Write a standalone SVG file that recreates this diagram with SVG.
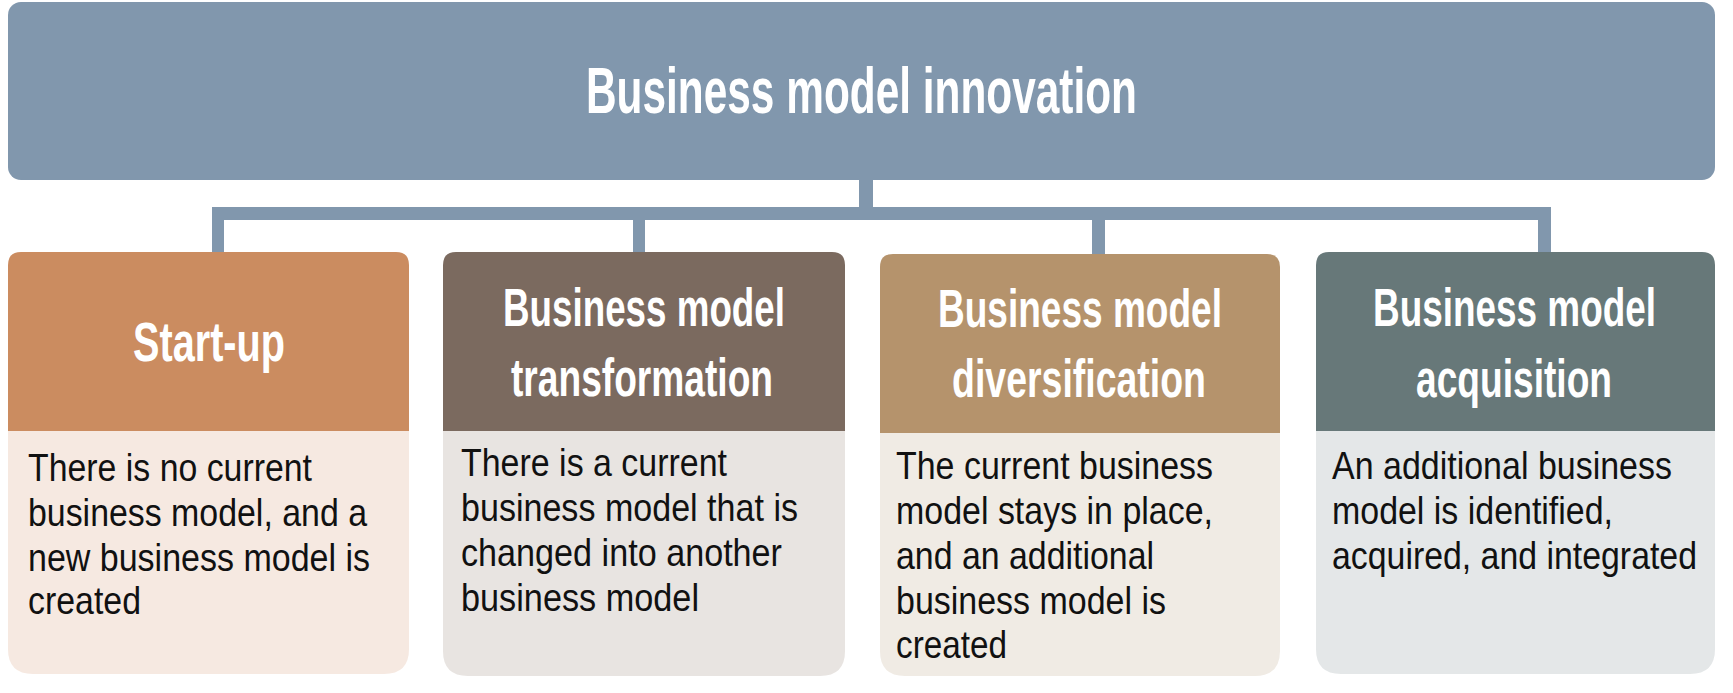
<svg xmlns="http://www.w3.org/2000/svg" width="1733" height="693" viewBox="0 0 1733 693">
<style>
.hdr{font-family:"Liberation Sans Narrow","Liberation Sans","DejaVu Sans Condensed",sans-serif;font-weight:bold;fill:#ffffff;}
.body{font-family:"Liberation Sans Narrow","Liberation Sans",Arial,sans-serif;font-size:39px;fill:#111111;}
.conn{fill:#8197ad;}
</style>
<rect width="1733" height="693" fill="#ffffff"/>
<g id="connectors">
  <rect class="conn" x="859" y="178" width="14" height="36"/>
  <rect class="conn" x="212" y="207" width="1339" height="13"/>
  <rect class="conn" x="212" y="207" width="12" height="47"/>
  <rect class="conn" x="633" y="207" width="12" height="47"/>
  <rect class="conn" x="1092" y="207" width="13" height="49"/>
  <rect class="conn" x="1538" y="207" width="13" height="47"/>
</g>
<g id="root">
  <rect x="8" y="2" width="1707" height="178" rx="13" fill="#8197ad"/>
  <text class="hdr" x="586" y="113" font-size="64" textLength="551" lengthAdjust="spacingAndGlyphs">Business model innovation</text>
</g>
<g id="startup">
  <path d="M8 265 Q8 252 21 252 H396 Q409 252 409 265 V431 H8 Z" fill="#cb8c60"/>
  <path d="M8 431 H409 V649 Q409 674 384 674 H33 Q8 674 8 649 Z" fill="#f6e9e1"/>
  <text class="hdr" x="133" y="361" font-size="55" textLength="152" lengthAdjust="spacingAndGlyphs">Start-up</text>
  <text class="body" x="28" y="481" textLength="284" lengthAdjust="spacingAndGlyphs">There is no current</text>
  <text class="body" x="28" y="526" textLength="339" lengthAdjust="spacingAndGlyphs">business model, and a</text>
  <text class="body" x="28" y="571" textLength="342" lengthAdjust="spacingAndGlyphs">new business model is</text>
  <text class="body" x="28" y="614" textLength="113" lengthAdjust="spacingAndGlyphs">created</text>
</g>
<g id="transformation">
  <path d="M443 265 Q443 252 456 252 H832 Q845 252 845 265 V431 H443 Z" fill="#7b6a5f"/>
  <path d="M443 431 H845 V651 Q845 676 820 676 H468 Q443 676 443 651 Z" fill="#e8e4e1"/>
  <text class="hdr" x="503" y="326" font-size="54" textLength="282" lengthAdjust="spacingAndGlyphs">Business model</text>
  <text class="hdr" x="511" y="396" font-size="54" textLength="262" lengthAdjust="spacingAndGlyphs">transformation</text>
  <text class="body" x="461" y="476" textLength="266" lengthAdjust="spacingAndGlyphs">There is a current</text>
  <text class="body" x="461" y="521" textLength="337" lengthAdjust="spacingAndGlyphs">business model that is</text>
  <text class="body" x="461" y="566" textLength="321" lengthAdjust="spacingAndGlyphs">changed into another</text>
  <text class="body" x="461" y="611" textLength="238" lengthAdjust="spacingAndGlyphs">business model</text>
</g>
<g id="diversification">
  <path d="M880 267 Q880 254 893 254 H1267 Q1280 254 1280 267 V433 H880 Z" fill="#b5936c"/>
  <path d="M880 433 H1280 V651 Q1280 676 1255 676 H905 Q880 676 880 651 Z" fill="#f0ebe4"/>
  <text class="hdr" x="938" y="327" font-size="54" textLength="284" lengthAdjust="spacingAndGlyphs">Business model</text>
  <text class="hdr" x="952" y="397" font-size="54" textLength="254" lengthAdjust="spacingAndGlyphs">diversification</text>
  <text class="body" x="896" y="479" textLength="317" lengthAdjust="spacingAndGlyphs">The current business</text>
  <text class="body" x="896" y="524" textLength="317" lengthAdjust="spacingAndGlyphs">model stays in place,</text>
  <text class="body" x="896" y="569" textLength="258" lengthAdjust="spacingAndGlyphs">and an additional</text>
  <text class="body" x="896" y="614" textLength="270" lengthAdjust="spacingAndGlyphs">business model is</text>
  <text class="body" x="896" y="658" textLength="111" lengthAdjust="spacingAndGlyphs">created</text>
</g>
<g id="acquisition">
  <path d="M1316 265 Q1316 252 1329 252 H1702 Q1715 252 1715 265 V431 H1316 Z" fill="#677879"/>
  <path d="M1316 431 H1715 V649 Q1715 674 1690 674 H1341 Q1316 674 1316 649 Z" fill="#e4e7e8"/>
  <text class="hdr" x="1373" y="326" font-size="54" textLength="283" lengthAdjust="spacingAndGlyphs">Business model</text>
  <text class="hdr" x="1416" y="397" font-size="54" textLength="196" lengthAdjust="spacingAndGlyphs">acquisition</text>
  <text class="body" x="1332" y="479" textLength="340" lengthAdjust="spacingAndGlyphs">An additional business</text>
  <text class="body" x="1332" y="524" textLength="281" lengthAdjust="spacingAndGlyphs">model is identified,</text>
  <text class="body" x="1332" y="569" textLength="365" lengthAdjust="spacingAndGlyphs">acquired, and integrated</text>
</g>
</svg>
